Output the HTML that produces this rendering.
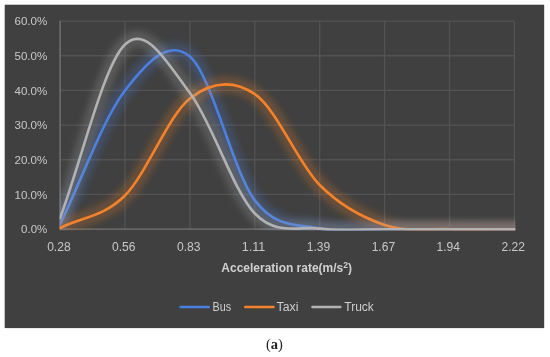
<!DOCTYPE html><html><head><meta charset="utf-8"><title>chart</title><style>html,body{margin:0;padding:0;background:#fff}svg{display:block}text{font-family:"Liberation Sans",sans-serif}</style></head><body>
<svg width="550" height="357" viewBox="0 0 550 357">
<defs><filter id="g" x="-20%" y="-20%" width="140%" height="140%"><feGaussianBlur stdDeviation="3"/></filter><clipPath id="cp"><rect x="59.6" y="20" width="455.8" height="210.5"/></clipPath></defs>
<rect width="550" height="357" fill="#fff"/>
<rect x="4.7" y="4.7" width="539.5" height="323.4" fill="#404040"/>
<line x1="125.00" y1="21.10" x2="125.00" y2="229.10" stroke="#535353" stroke-width="1.3"/>
<line x1="189.90" y1="21.10" x2="189.90" y2="229.10" stroke="#535353" stroke-width="1.3"/>
<line x1="254.80" y1="21.10" x2="254.80" y2="229.10" stroke="#535353" stroke-width="1.3"/>
<line x1="319.70" y1="21.10" x2="319.70" y2="229.10" stroke="#535353" stroke-width="1.3"/>
<line x1="384.60" y1="21.10" x2="384.60" y2="229.10" stroke="#535353" stroke-width="1.3"/>
<line x1="449.50" y1="21.10" x2="449.50" y2="229.10" stroke="#535353" stroke-width="1.3"/>
<line x1="514.40" y1="21.10" x2="514.40" y2="229.10" stroke="#535353" stroke-width="1.3"/>
<line x1="60.10" y1="21.10" x2="514.40" y2="21.10" stroke="#535353" stroke-width="1.3"/>
<line x1="60.10" y1="55.77" x2="514.40" y2="55.77" stroke="#535353" stroke-width="1.3"/>
<line x1="60.10" y1="90.43" x2="514.40" y2="90.43" stroke="#535353" stroke-width="1.3"/>
<line x1="60.10" y1="125.10" x2="514.40" y2="125.10" stroke="#535353" stroke-width="1.3"/>
<line x1="60.10" y1="159.77" x2="514.40" y2="159.77" stroke="#535353" stroke-width="1.3"/>
<line x1="60.10" y1="194.43" x2="514.40" y2="194.43" stroke="#535353" stroke-width="1.3"/>
<line x1="60.10" y1="21.10" x2="60.10" y2="229.10" stroke="#747474" stroke-width="1.4"/>
<line x1="60.10" y1="229.10" x2="514.40" y2="229.10" stroke="#747474" stroke-width="1.2"/>
<g clip-path="url(#cp)"><path d="M60.10 224.40 C81.73 179.77 103.37 118.48 125.00 90.50 C146.63 62.52 168.27 38.18 189.90 56.50 C211.53 74.82 233.17 171.73 254.80 200.40 C276.43 229.07 298.07 223.70 319.70 228.50 C341.33 233.30 362.97 229.08 384.60 229.20 C406.23 229.32 427.87 229.20 449.50 229.20 C471.13 229.20 503.58 229.20 514.40 229.20" fill="none" stroke="#4a7fe0" stroke-width="16" stroke-opacity="0.22" filter="url(#g)" stroke-linecap="round"/>
<path d="M60.10 224.40 C81.73 179.77 103.37 118.48 125.00 90.50 C146.63 62.52 168.27 38.18 189.90 56.50 C211.53 74.82 233.17 171.73 254.80 200.40 C276.43 229.07 298.07 223.70 319.70 228.50 C341.33 233.30 362.97 229.08 384.60 229.20 C406.23 229.32 427.87 229.20 449.50 229.20 C471.13 229.20 503.58 229.20 514.40 229.20" fill="none" stroke="#4a7fe0" stroke-width="2.6" stroke-linecap="round" stroke-linejoin="round"/></g>
<g clip-path="url(#cp)"><path d="M60.10 228.00 C81.73 217.17 103.37 217.08 125.00 195.50 C146.63 173.92 168.27 115.40 189.90 98.50 C211.53 81.60 233.17 79.68 254.80 94.10 C276.43 108.52 298.07 163.18 319.70 185.00 C341.33 206.82 362.97 217.63 384.60 225.00 C406.23 232.37 427.87 228.50 449.50 229.20 C471.13 229.90 503.58 229.20 514.40 229.20" fill="none" stroke="#f5822a" stroke-width="16" stroke-opacity="0.22" filter="url(#g)" stroke-linecap="round"/>
<path d="M60.10 228.00 C81.73 217.17 103.37 217.08 125.00 195.50 C146.63 173.92 168.27 115.40 189.90 98.50 C211.53 81.60 233.17 79.68 254.80 94.10 C276.43 108.52 298.07 163.18 319.70 185.00 C341.33 206.82 362.97 217.63 384.60 225.00 C406.23 232.37 427.87 228.50 449.50 229.20 C471.13 229.90 503.58 229.20 514.40 229.20" fill="none" stroke="#f5822a" stroke-width="2.6" stroke-linecap="round" stroke-linejoin="round"/></g>
<g clip-path="url(#cp)"><path d="M60.10 218.00 C81.73 160.17 103.37 65.33 125.00 44.50 C146.63 23.67 168.27 64.83 189.90 93.00 C211.53 121.17 233.17 190.90 254.80 213.50 C276.43 236.10 298.07 225.98 319.70 228.60 C341.33 231.22 362.97 229.10 384.60 229.20 C406.23 229.30 427.87 229.20 449.50 229.20 C471.13 229.20 503.58 229.20 514.40 229.20" fill="none" stroke="#b2b2b2" stroke-width="16" stroke-opacity="0.22" filter="url(#g)" stroke-linecap="round"/>
<path d="M60.10 218.00 C81.73 160.17 103.37 65.33 125.00 44.50 C146.63 23.67 168.27 64.83 189.90 93.00 C211.53 121.17 233.17 190.90 254.80 213.50 C276.43 236.10 298.07 225.98 319.70 228.60 C341.33 231.22 362.97 229.10 384.60 229.20 C406.23 229.30 427.87 229.20 449.50 229.20 C471.13 229.20 503.58 229.20 514.40 229.20" fill="none" stroke="#b2b2b2" stroke-width="2.6" stroke-linecap="round" stroke-linejoin="round"/></g>
<text x="58.90" y="250.8" font-size="12" fill="#c8c8c8" text-anchor="middle" textLength="23.5" lengthAdjust="spacingAndGlyphs">0.28</text>
<text x="123.80" y="250.8" font-size="12" fill="#c8c8c8" text-anchor="middle" textLength="23.5" lengthAdjust="spacingAndGlyphs">0.56</text>
<text x="188.70" y="250.8" font-size="12" fill="#c8c8c8" text-anchor="middle" textLength="23.5" lengthAdjust="spacingAndGlyphs">0.83</text>
<text x="253.60" y="250.8" font-size="12" fill="#c8c8c8" text-anchor="middle" textLength="23.5" lengthAdjust="spacingAndGlyphs">1.11</text>
<text x="318.50" y="250.8" font-size="12" fill="#c8c8c8" text-anchor="middle" textLength="23.5" lengthAdjust="spacingAndGlyphs">1.39</text>
<text x="383.40" y="250.8" font-size="12" fill="#c8c8c8" text-anchor="middle" textLength="23.5" lengthAdjust="spacingAndGlyphs">1.67</text>
<text x="448.30" y="250.8" font-size="12" fill="#c8c8c8" text-anchor="middle" textLength="23.5" lengthAdjust="spacingAndGlyphs">1.94</text>
<text x="513.20" y="250.8" font-size="12" fill="#c8c8c8" text-anchor="middle" textLength="23.5" lengthAdjust="spacingAndGlyphs">2.22</text>
<text x="47.3" y="25.40" font-size="11.7" fill="#c8c8c8" text-anchor="end" textLength="32.8" lengthAdjust="spacingAndGlyphs">60.0%</text>
<text x="47.3" y="60.07" font-size="11.7" fill="#c8c8c8" text-anchor="end" textLength="32.8" lengthAdjust="spacingAndGlyphs">50.0%</text>
<text x="47.3" y="94.73" font-size="11.7" fill="#c8c8c8" text-anchor="end" textLength="32.8" lengthAdjust="spacingAndGlyphs">40.0%</text>
<text x="47.3" y="129.40" font-size="11.7" fill="#c8c8c8" text-anchor="end" textLength="32.8" lengthAdjust="spacingAndGlyphs">30.0%</text>
<text x="47.3" y="164.07" font-size="11.7" fill="#c8c8c8" text-anchor="end" textLength="32.8" lengthAdjust="spacingAndGlyphs">20.0%</text>
<text x="47.3" y="198.73" font-size="11.7" fill="#c8c8c8" text-anchor="end" textLength="32.8" lengthAdjust="spacingAndGlyphs">10.0%</text>
<text x="47.3" y="233.40" font-size="11.7" fill="#c8c8c8" text-anchor="end" textLength="26.2" lengthAdjust="spacingAndGlyphs">0.0%</text>
<text x="221.3" y="272" font-size="12.5" font-weight="bold" fill="#d0d0d0" textLength="130.8" lengthAdjust="spacingAndGlyphs">Acceleration rate(m/s<tspan font-size="9" dy="-4.2">2</tspan><tspan dy="4.2">)</tspan></text>
<line x1="180.6" y1="307" x2="208.8" y2="307" stroke="#4a7fe0" stroke-width="2.6" stroke-linecap="round"/>
<text x="212.6" y="311.3" font-size="12.5" fill="#cfcfcf" textLength="18.6" lengthAdjust="spacingAndGlyphs">Bus</text>
<line x1="245.3" y1="307" x2="273.5" y2="307" stroke="#f5822a" stroke-width="2.6" stroke-linecap="round"/>
<text x="276.6" y="311.3" font-size="12.5" fill="#cfcfcf" textLength="21.8" lengthAdjust="spacingAndGlyphs">Taxi</text>
<line x1="312.5" y1="307" x2="340.3" y2="307" stroke="#b2b2b2" stroke-width="2.6" stroke-linecap="round"/>
<text x="344.3" y="311.3" font-size="12.5" fill="#cfcfcf" textLength="29.5" lengthAdjust="spacingAndGlyphs">Truck</text>
<text x="274.4" y="349.3" font-size="14.5" fill="#222" text-anchor="middle" style="font-family:'Liberation Serif',serif">(<tspan font-weight="bold">a</tspan>)</text>
</svg></body></html>
